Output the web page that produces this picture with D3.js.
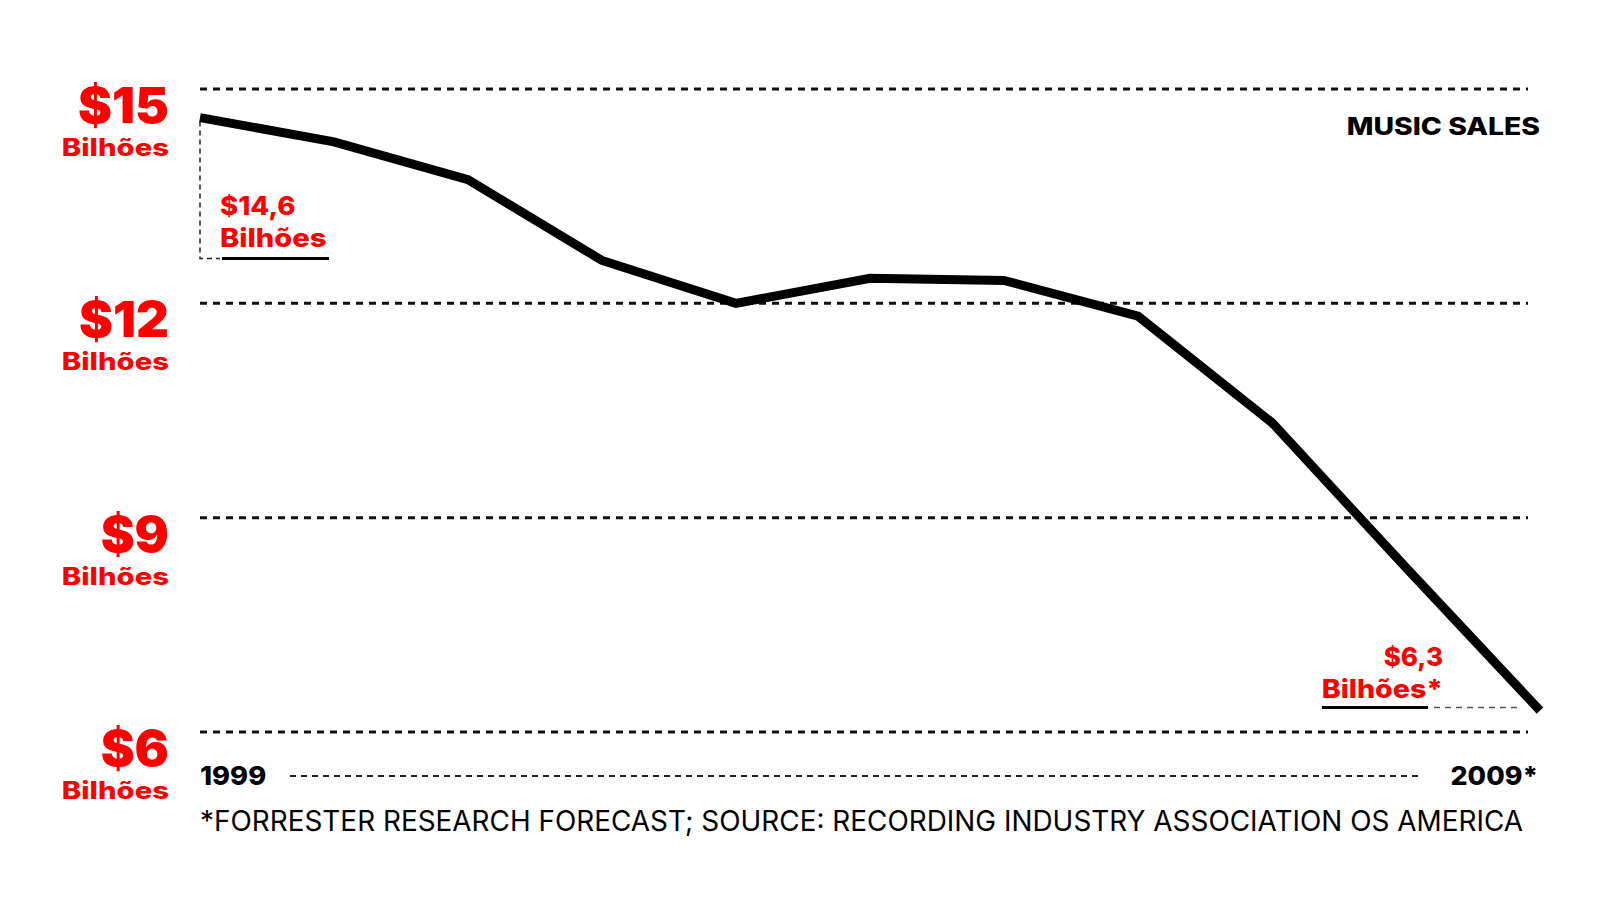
<!DOCTYPE html>
<html>
<head>
<meta charset="utf-8">
<script src="https://cdn.jsdelivr.net/npm/d3@7"></script>
<style>
  body { margin: 0; background: #fff; }
  svg { display: block; }
  text { font-family: Inter, "DejaVu Sans", sans-serif; }
</style>
</head>
<body>
<script>
'use strict';

const years = [1999, 2000, 2001, 2002, 2003, 2004, 2005, 2006, 2007, 2008, 2009];
const sales = [14.6, 14.26, 13.73, 12.6, 12.0, 12.35, 12.32, 11.82, 10.33, 8.3, 6.3];
const yTicks = [6, 9, 12, 15];
const tickUnit = 'Bilhões';
const title = 'MUSIC SALES';
const firstLabel = ['$14,6', 'Bilhões'];
const lastLabel = ['$6,3', 'Bilhões*'];
const xLabels = ['1999', '2009*'];
const footnote = '*FORRESTER RESEARCH FORECAST; SOURCE: RECORDING INDUSTRY ASSOCIATION OS AMERICA';

const red = '#ff0000';
const width = 1600;
const height = 900;

const xScale = d3.scaleLinear().domain([1999, 2009]).range([200, 1540]);
const yScale = d3.scaleLinear().domain([6, 15]).range([732, 89]);

const data = years.map((y, i) => ({x: y, y: sales[i]}));

// Montserrat isn't around, so stretch the text a bit to its width
function widen(sel, factor) {
  sel.each(function(d, i) {
    const f = Array.isArray(factor) ? factor[i] : factor;
    const len = this.getComputedTextLength();
    d3.select(this)
      .attr('textLength', len * f)
      .attr('lengthAdjust', 'spacingAndGlyphs');
  });
}

const svg = d3.select('body').append('svg')
  .attr('width', width)
  .attr('height', height);

// grid lines
svg.append('g').selectAll('line')
  .data(yTicks)
  .enter()
  .append('line')
  .attr('x1', xScale(1999))
  .attr('x2', xScale(2009) - 12)
  .attr('y1', d => yScale(d))
  .attr('y2', d => yScale(d))
  .attr('stroke', '#111')
  .attr('stroke-width', 3)
  .attr('stroke-dasharray', '7 6');

// y labels
const yLab = svg.append('g').selectAll('g')
  .data(yTicks)
  .enter()
  .append('g')
  .attr('transform', d => 'translate(' + [169, yScale(d)] + ')');

yLab.append('text')
  .attr('y', 34)
  .attr('text-anchor', 'end')
  .attr('fill', red)
  .style('font-size', '50px')
  .style('font-weight', 900)
  .text(d => '$' + d)
  .call(widen, 1.02);

yLab.append('text')
  .attr('y', 67)
  .attr('text-anchor', 'end')
  .attr('fill', red)
  .style('font-size', '24px')
  .style('font-weight', 800)
  .text(tickUnit)
  .call(widen, 1.22);

// title
svg.append('text')
  .attr('x', 1540)
  .attr('y', 135)
  .attr('text-anchor', 'end')
  .style('font-size', '24px')
  .style('font-weight', 800)
  .text(title)
  .call(widen, 1.18);

// first point annotation
const p0 = data[0];
const a0 = svg.append('g')
  .attr('transform', 'translate(' + [xScale(p0.x), yScale(p0.y)] + ')');

a0.append('path')
  .attr('d', 'M0,4V141H20')
  .attr('fill', 'none')
  .attr('stroke', '#222')
  .attr('stroke-width', 1.5)
  .attr('stroke-dasharray', '5 4');

a0.append('line')
  .attr('x1', 22).attr('x2', 129)
  .attr('y1', 141).attr('y2', 141)
  .attr('stroke', '#000')
  .attr('stroke-width', 3);

a0.selectAll('text')
  .data(firstLabel)
  .enter()
  .append('text')
  .attr('x', 20)
  .attr('y', (d, i) => 97 + i * 32)
  .attr('fill', red)
  .style('font-size', '26px')
  .style('font-weight', 800)
  .text(d => d)
  .call(widen, [1.06, 1.12]);

// last point annotation
const pN = data[data.length - 1];
const aN = svg.append('g')
  .attr('transform', 'translate(' + [xScale(pN.x), yScale(pN.y)] + ')');

aN.append('line')
  .attr('x1', -218).attr('x2', -112)
  .attr('y1', -3).attr('y2', -3)
  .attr('stroke', '#000')
  .attr('stroke-width', 3);

aN.append('line')
  .attr('x1', -106).attr('x2', -20)
  .attr('y1', -3).attr('y2', -3)
  .attr('stroke', '#555')
  .attr('stroke-width', 1.5)
  .attr('stroke-dasharray', '6 5');

aN.selectAll('text')
  .data(lastLabel)
  .enter()
  .append('text')
  .attr('x', -97)
  .attr('y', (d, i) => -45 + i * 32)
  .attr('text-anchor', 'end')
  .attr('fill', red)
  .style('font-size', '26px')
  .style('font-weight', 800)
  .text(d => d)
  .call(widen, [1.0, 1.1]);

// sales line
const lineGenerator = d3.line()
  .x(d => xScale(d.x))
  .y(d => yScale(d.y));

svg.append('path')
  .datum(data)
  .attr('d', lineGenerator)
  .attr('fill', 'none')
  .attr('stroke', '#000')
  .attr('stroke-width', 9);

// x row
svg.append('line')
  .attr('x1', 290).attr('x2', 1421)
  .attr('y1', 776).attr('y2', 776)
  .attr('stroke', '#222')
  .attr('stroke-width', 2)
  .attr('stroke-dasharray', '6 5');

svg.append('text')
  .attr('x', xScale(1999))
  .attr('y', 785)
  .style('font-size', '26px')
  .style('font-weight', 800)
  .text(xLabels[0])
  .call(widen, 1.05);

svg.append('text')
  .attr('x', xScale(2009) - 2)
  .attr('y', 785)
  .attr('text-anchor', 'end')
  .style('font-size', '26px')
  .style('font-weight', 800)
  .text(xLabels[1])
  .call(widen, 1.03);

svg.append('text')
  .attr('x', 200)
  .attr('y', 831)
  .attr('textLength', 1323)
  .attr('lengthAdjust', 'spacingAndGlyphs')
  .style('font-size', '28px')
  .style('font-weight', 400)
  .text(footnote);
</script>
</body>
</html>
